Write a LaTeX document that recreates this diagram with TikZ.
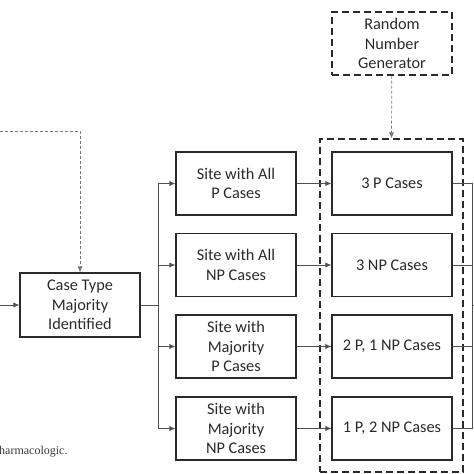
\documentclass[tikz,border=0pt]{standalone}
\usepackage{fontspec}
\setmainfont{Carlito}
\newfontfamily\capfont{Liberation Serif}
\usetikzlibrary{positioning,arrows.meta}
\definecolor{ink}{HTML}{2A2A2A}
\definecolor{linegrey}{HTML}{505050}
\definecolor{dashgrey}{HTML}{777777}
\definecolor{captext}{HTML}{3A3A3A}

\begin{document}
\begin{tikzpicture}[x=1pt,y=-1pt,font=\fontsize{16.3}{19.3}\selectfont,
    box/.style={draw=ink,line width=1.1pt,minimum width=120pt,minimum height=63pt,align=center,inner sep=0pt,text=ink},
    dashbox/.style={box,dash pattern=on 7pt off 4pt},
    frame/.style={draw=ink,line width=1.2pt,dash pattern=on 7pt off 4pt,minimum width=143pt,minimum height=333pt,inner sep=0pt},
    wire/.style={linegrey,line width=.7pt},
    flow/.style={wire,-{Latex[length=6pt,width=5pt]}},
    dflow/.style={dashgrey,line width=.7pt,dash pattern=on 3pt off 2pt,-{Latex[length=6pt,width=5pt]}}]
    \useasboundingbox (0,0) rectangle (474,474);
    % generator and selection pool
    \node[dashbox] (rng) at (392,43.5){Random\\Number\\Generator};
    \node[frame] (pool) at (391.5,305.5){};
    % majority step
    \node[box,minimum height=64pt] (ctype) at (80,305){Case Type\\Majority\\Identified};
    \node[box] (site1) at (236,183.5){Site with All\\P Cases};
    \node[box] (site2) at (236,265){Site with All\\NP Cases};
    \node[box] (site3) at (236,346.5){Site with\\Majority\\P Cases};
    \node[box] (site4) at (236,428.5){Site with\\Majority\\NP Cases};
    \node[box] (case1) at (392,183.5){3 P Cases};
    \node[box] (case2) at (392,265){3 NP Cases};
    \node[box] (case3) at (392,346.5){2 P, 1 NP Cases};
    \node[box] (case4) at (392,428.5){1 P, 2 NP Cases};
    \node[font=\capfont\fontsize{12}{13}\selectfont,text=captext,anchor=west,inner sep=0pt] (cap) at (-1,452){harmacologic.};
    % connectors
    \coordinate (inL) at (0,305); \coordinate (fbk) at (0,131);
    \coordinate (split) at (158,305); \coordinate (join) at (472,305); \coordinate (outR) at (474,305);
    \draw[flow] (inL) -- (ctype);
    \draw[dflow] (fbk) -| (ctype.north);
    \draw[dflow] (rng) -- (pool.north);
    \draw[wire] (ctype) -- (split);
    \foreach \i in {1,...,4}{
      \draw[flow] (split) |- (site\i.west);
      \draw[flow] (site\i) -- (case\i);
      \draw[wire] (case\i.east) -| (join);
    }
    \draw[wire] (join) -- (outR);
  \end{tikzpicture}
\end{document}
